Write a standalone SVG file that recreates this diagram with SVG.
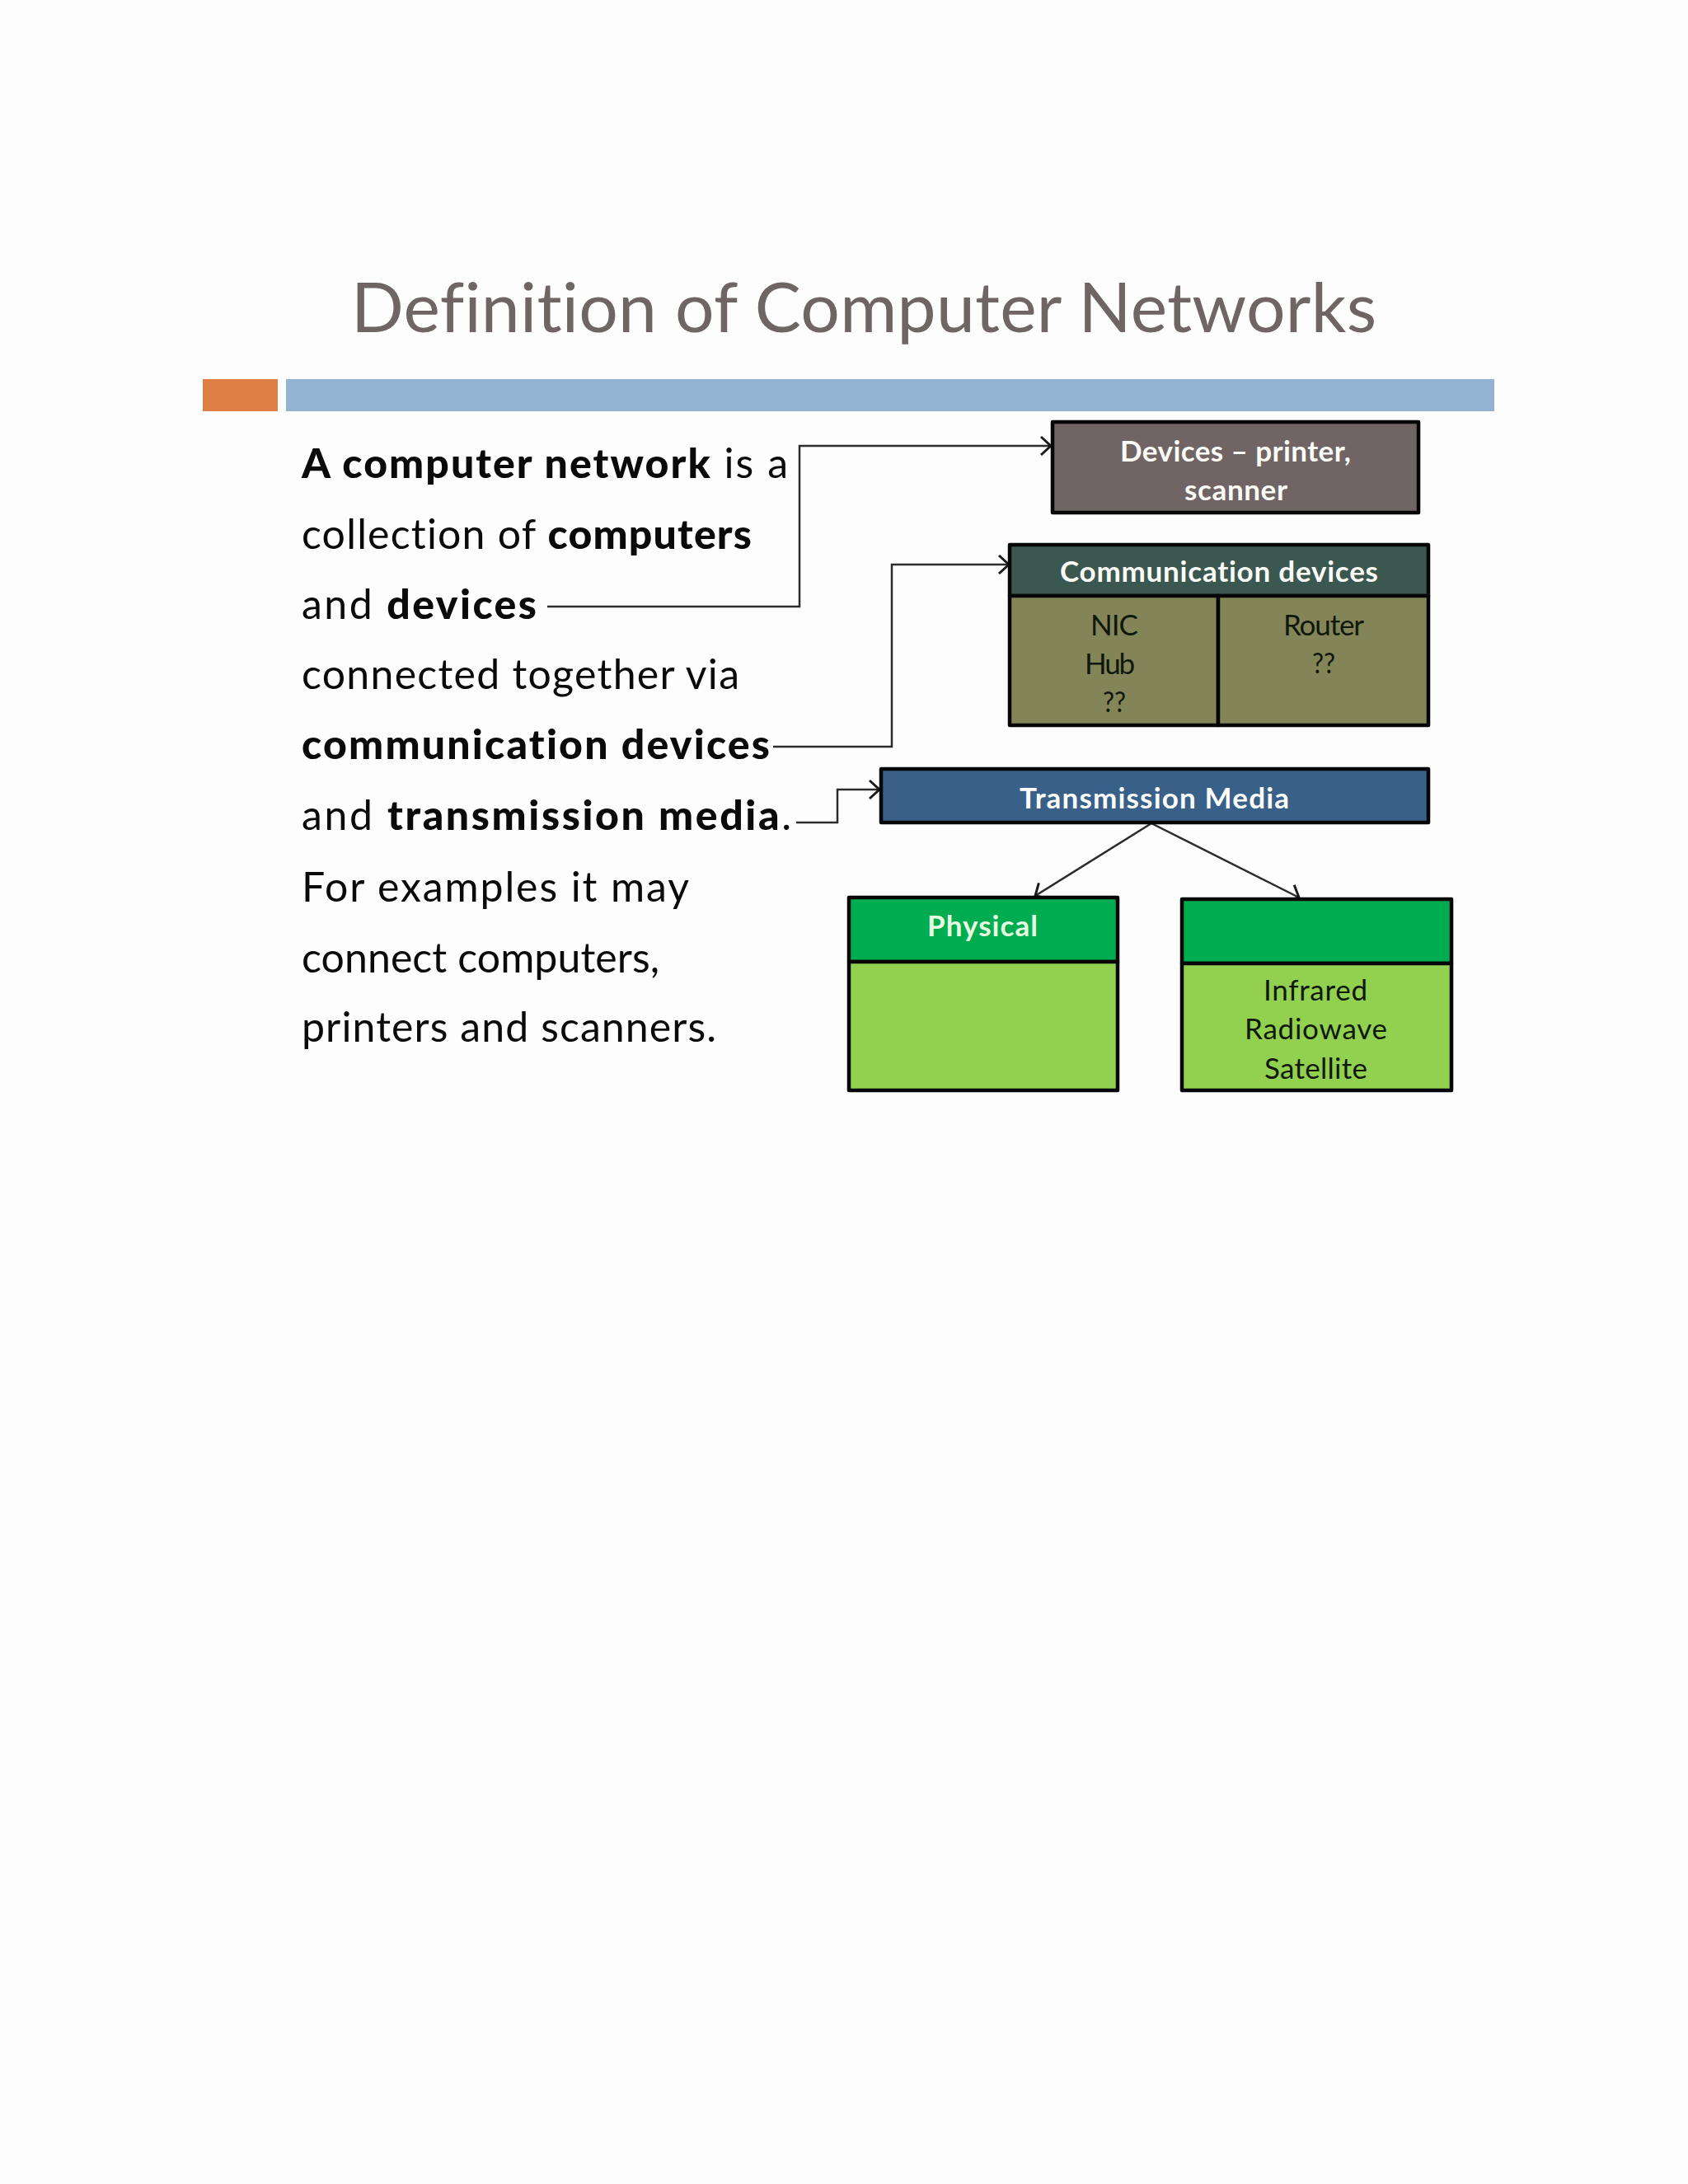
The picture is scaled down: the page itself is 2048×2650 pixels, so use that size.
<svg xmlns="http://www.w3.org/2000/svg" width="2048" height="2650" viewBox="0 0 2048 2650">
<style>
text{font-family:"Lato","Noto Sans","Liberation Sans",sans-serif;font-variant-ligatures:none}
.title{font-size:84px;fill:#6f6565}
.body{font-size:50px;fill:#0a0a0a}
.b{font-weight:900}
.lbl{font-size:35px}
.w{fill:#fbfbf8;font-weight:700}
.d{fill:#10180c}
.box{stroke:#060606;stroke-width:4.5;stroke-linejoin:round}
.conn{fill:none;stroke:#2c2c2c;stroke-width:2.5}
</style>
<defs>
<marker id="arr" markerUnits="userSpaceOnUse" markerWidth="20" markerHeight="26" refX="16" refY="13" orient="auto"><path d="M4 2 L16 13 L4 24" fill="none" stroke="#1a1a1a" stroke-width="3"/></marker>
</defs>
<rect width="2048" height="2650" fill="#fefdfd"/>
<g id="title"><text class="title" x="426" y="403" textLength="1244" lengthAdjust="spacing">Definition of Computer Networks</text></g>
<g id="bars">
<rect x="246" y="460" width="91" height="39" fill="#e07f45"/>
<rect x="347" y="460" width="1466" height="39" fill="#93b3d2"/>
</g>
<g id="paragraph">
<text class="body" x="366" y="580" textLength="590" lengthAdjust="spacing"><tspan class="b">A computer network</tspan> is a</text>
<text class="body" x="366" y="666" textLength="546" lengthAdjust="spacing">collection of <tspan class="b">computers</tspan></text>
<text class="body" x="366" y="751" textLength="285" lengthAdjust="spacing">and <tspan class="b">devices</tspan></text>
<text class="body" x="366" y="836" textLength="531" lengthAdjust="spacing">connected together via</text>
<text class="body b" x="366" y="921" textLength="568" lengthAdjust="spacing">communication devices</text>
<text class="body" x="366" y="1007" textLength="594" lengthAdjust="spacing">and <tspan class="b">transmission media</tspan>.</text>
<text class="body" x="366" y="1094" textLength="470" lengthAdjust="spacing">For examples it may</text>
<text class="body" x="366" y="1180" textLength="434" lengthAdjust="spacing">connect computers,</text>
<text class="body" x="366" y="1264" textLength="503" lengthAdjust="spacing">printers and scanners.</text>
</g>
<g id="connectors">
<path class="conn" marker-end="url(#arr)" d="M664 736 H970 V541 H1275"/>
<path class="conn" marker-end="url(#arr)" d="M938 906 H1082 V685 H1224"/>
<path class="conn" marker-end="url(#arr)" d="M966 998 H1016 V958 H1067"/>
<path class="conn" marker-end="url(#arr)" d="M1397 999 L1256 1087"/>
<path class="conn" marker-end="url(#arr)" d="M1397 999 L1576 1089"/>
</g>
<g id="devices">
<rect class="box" x="1277" y="512" width="444" height="110" fill="#706464"/>
<text class="lbl w" x="1359" y="560" textLength="280" lengthAdjust="spacing">Devices – printer,</text>
<text class="lbl w" x="1437" y="607" textLength="125" lengthAdjust="spacing">scanner</text>
</g>
<g id="communication-devices">
<rect class="box" x="1225" y="661" width="508" height="62" fill="#3a5750"/>
<rect class="box" x="1225" y="723" width="253" height="157" fill="#838558"/>
<rect class="box" x="1478" y="723" width="255" height="157" fill="#838558"/>
<text class="lbl w" x="1286" y="706" textLength="386" lengthAdjust="spacing">Communication devices</text>
<text class="lbl d" x="1323" y="771" textLength="58" lengthAdjust="spacing">NIC</text>
<text class="lbl d" x="1316" y="818" textLength="61" lengthAdjust="spacing">Hub</text>
<text class="lbl d" x="1338" y="864" textLength="28" lengthAdjust="spacingAndGlyphs">??</text>
<text class="lbl d" x="1557" y="771" textLength="98" lengthAdjust="spacing">Router</text>
<text class="lbl d" x="1592" y="817" textLength="28" lengthAdjust="spacingAndGlyphs">??</text>
</g>
<g id="transmission-media">
<rect class="box" x="1069" y="933" width="664" height="65" fill="#386088"/>
<text class="lbl w" x="1237" y="981" textLength="327" lengthAdjust="spacing">Transmission Media</text>
</g>
<g id="physical">
<rect class="box" x="1030" y="1089" width="326" height="78" fill="#00ac50"/>
<rect class="box" x="1030" y="1167" width="326" height="156" fill="#92d050"/>
<text class="lbl" fill="#e6fbe0" font-weight="700" x="1125" y="1136" textLength="134" lengthAdjust="spacing">Physical</text>
</g>
<g id="wireless">
<rect class="box" x="1434" y="1091" width="327" height="78" fill="#00ac50"/>
<rect class="box" x="1434" y="1169" width="327" height="154" fill="#92d050"/>
<text class="lbl d" x="1533" y="1214" textLength="126" lengthAdjust="spacing">Infrared</text>
<text class="lbl d" x="1510" y="1261" textLength="173" lengthAdjust="spacing">Radiowave</text>
<text class="lbl d" x="1534" y="1309" textLength="125" lengthAdjust="spacing">Satellite</text>
</g>
</svg>
